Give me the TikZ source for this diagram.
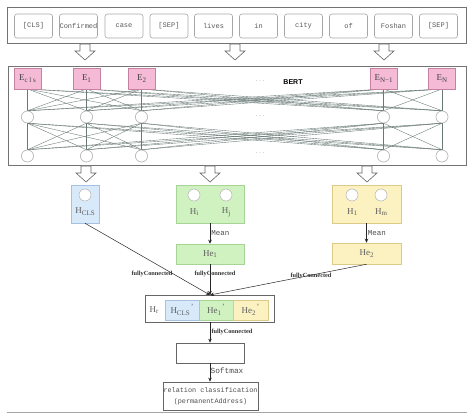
\documentclass[tikz,border=0pt]{standalone}
\usepackage{fontspec}
\setmainfont{Liberation Serif}
\setsansfont{Liberation Sans}
\setmonofont{Liberation Mono}
\usetikzlibrary{arrows.meta}
\definecolor{pinkF}{RGB}{244,186,214}
\definecolor{pinkB}{RGB}{196,130,160}
\definecolor{blueF}{RGB}{216,233,250}
\definecolor{blueB}{RGB}{165,195,225}
\definecolor{greenF}{RGB}{208,242,192}
\definecolor{greenB}{RGB}{165,212,150}
\definecolor{yelF}{RGB}{252,241,192}
\definecolor{yelB}{RGB}{222,202,135}
\definecolor{netc}{RGB}{105,122,118}
\definecolor{txtg}{RGB}{95,95,95}
\def\subsz{6.5pt}
\newcommand{\sbs}[1]{\raisebox{-0.45ex}{\fontsize{\subsz}{\subsz}\selectfont #1}}
\newcommand{\sps}{\raisebox{0.9ex}{\fontsize{8}{8}\selectfont\kern1pt'}}
\tikzset{
  frame/.style={draw=gray!90!black, line width=0.8pt, inner sep=0},
  tok/.style={draw=gray!70, rounded corners=2.5pt, minimum width=38pt, minimum height=24pt, inner sep=0,
    font=\ttfamily\fontsize{7}{8}\selectfont, text=black!65, line width=0.6pt},
  ebox/.style={draw=pinkB, fill=pinkF, minimum width=27pt, minimum height=21pt, inner sep=0,
    font=\fontsize{9}{10}\selectfont\def\subsz{7pt}, text=black!75},
  neur/.style={circle, draw=gray!60, fill=white, minimum size=12pt, inner sep=0, line width=0.5pt},
  net/.style={draw=netc, line width=0.38pt},
  dotsl/.style={font=\fontsize{6}{6}\selectfont, text=gray},
  hbox/.style={minimum height=38pt, inner sep=0, line width=0.5pt},
  hlab/.style={font=\fontsize{9}{10}\selectfont\def\subsz{7pt}, text=txtg, inner sep=0},
  inb/.style={minimum height=20pt, inner sep=0, font=\fontsize{9}{10}\selectfont\def\subsz{7pt}, text=txtg},
  flow/.style={draw=black!85, line width=0.5pt, -{Stealth[length=4pt,width=3.5pt]}},
  fc/.style={font=\bfseries\fontsize{6.3}{7}\selectfont, text=black!80, inner sep=0},
  mlab/.style={font=\ttfamily\fontsize{7.5}{8}\selectfont, text=black!70, inner sep=0},
  plain/.style={draw=gray!80!black, line width=0.7pt, inner sep=0},
  harrow/.pic={\draw[draw=gray!80!black, fill=white, line width=0.6pt]
    (-5,0) -- (5,0) -- (5,7) -- (10,7) -- (0,16) -- (-10,7) -- (-5,7) -- cycle;}
}
\begin{document}
\begin{tikzpicture}[x=1pt,y=-1pt]
\useasboundingbox (0,0) rectangle (474,419);
% top frame and tokens
\node[frame, minimum width=459pt, minimum height=36pt] (top) at (236.5,25) {};
\foreach \x/\t [count=\i] in {33.5/{[CLS]},78.5/Confirmed,124/case,169/{[SEP]},213.5/lives,258.5/in,303.5/city,348.5/of,393.5/Foshan,438.5/{[SEP]}}
  \node[tok] (t\i) at (\x,26) {\t};
% hollow arrows
\pic at (85,44) {harrow};
\pic at (235,44) {harrow};
\pic at (384,44) {harrow};
% BERT frame
\node[frame, minimum width=458pt, minimum height=99pt] (bert) at (237,115.5) {};
% network lines
\foreach \x [count=\i] in {27.5,86.5,141.5,383.5,442}{
  \coordinate (es\i) at (\x,89);
  \node[neur] (c\i) at (\x,117) {};
  \node[neur] (d\i) at (\x,156) {};
}
\foreach \i in {1,...,5}{
  \foreach \j in {1,...,5}{
    \draw[net] (es\i) -- (c\j.north);
    \draw[net] (c\i.south) -- (d\j.north);
  }
}
\foreach \i in {1,...,5}{
  \node[neur] at (c\i) {};
  \node[neur] at (d\i) {};
}
\node[ebox] (e1) at (27.5,78.5) {E\sbs{c l s}};
\node[ebox] (e2) at (86.5,78.5) {E\sbs{1}};
\node[ebox] (e3) at (141.5,78.5) {E\sbs{2}};
\node[ebox] (e4) at (383.5,78.5) {E\sbs{N−1}};
\node[ebox] (e5) at (442,78.5) {E\sbs{N}};
\node[dotsl] (dt1) at (260,81) {. . .};
\node[dotsl] (dt2) at (260,116) {. . .};
\node[dotsl] (dt3) at (260,153) {. . .};
\node[font=\sffamily\bfseries\fontsize{7}{8}\selectfont] (bl) at (293,82) {BERT};
% arrows below BERT
\pic at (86,166) {harrow};
\pic at (210,166) {harrow};
\pic at (367,166) {harrow};
% H boxes
\node[hbox, draw=blueB, fill=blueF, minimum width=28pt] (hcls) at (85,204) {};
\node[neur] (hc0) at (85,195) {};
\node[hlab] (hcl) at (85,212) {H\sbs{CLS}};
\node[hbox, draw=greenB, fill=greenF, minimum width=68pt] (hij) at (210,204) {};
\node[neur] (hi0) at (194,195) {};
\node[neur] (hj0) at (226,195) {};
\node[hlab] (hil) at (194,212) {H\sbs{i}};
\node[hlab] (hjl) at (226,212) {H\sbs{j}};
\node[hbox, draw=yelB, fill=yelF, minimum width=69pt] (h1m) at (366.5,204) {};
\node[neur] (h10) at (352,195) {};
\node[neur] (hm0) at (381,195) {};
\node[hlab] (h1l) at (352,212) {H\sbs{1}};
\node[hlab] (hml) at (381,212) {H\sbs{m}};
% He boxes
\node[inb, draw=greenB, fill=greenF, line width=0.5pt, minimum width=68pt] (he1) at (210,254) {He\sbs{1}};
\node[inb, draw=yelB, fill=yelF, line width=0.5pt, minimum width=69pt, minimum height=21pt] (he2) at (366.5,253.5) {He\sbs{2}};
\draw[flow] (hij.south) -- (he1.north) node[midway, right=1pt, mlab] {Mean};
\draw[flow] (h1m.south) -- (he2.north) node[midway, right=1pt, mlab] {Mean};
% Hr box
\node[plain, minimum width=129pt, minimum height=27pt] (hr) at (209.5,308.5) {};
\node[hlab] (hrl) at (154,310) {H\sbs{r}};
\node[inb, draw=blueB, fill=blueF, minimum width=34pt] (hr1) at (182,310) {H\sbs{CLS}\sps};
\node[inb, draw=greenB, fill=greenF, minimum width=34pt] (hr2) at (216,310) {He\sbs{1}\sps};
\node[inb, draw=yelB, fill=yelF, minimum width=35pt] (hr3) at (250.5,310) {He\sbs{2}\sps};
\coordinate (hrin) at (210,295);
\draw[flow] (hcls.south) -- (hrin);
\draw[flow] (he1.south) -- (hrin);
\draw[flow] (he2.south) -- (hrin);
\node[fc] (fc1) at (152,274) {fullyConnected};
\node[fc] (fc2) at (215,274) {fullyConnected};
\node[fc] (fc3) at (311,276) {fullyConnected};
% softmax box
\node[plain, minimum width=68pt, minimum height=20pt] (sm) at (210,353) {};
\draw[flow] (hr.south -| hrin) -- (sm.north);
\node[fc] (fc4) at (232,332) {fullyConnected};
% relation box
\node[plain, minimum width=95pt, minimum height=28pt, align=center, font=\ttfamily\fontsize{6.8}{11}\selectfont, text=black!70] (rel) at (210.5,396) {relation classification\\(permanentAddress)};
\draw[flow] (sm.south) -- (rel.north -| sm.south);
\node[mlab, font=\ttfamily\fontsize{7.8}{8}\selectfont] (sml) at (227,371) {Softmax};
% bottom rule
\coordinate (bl1) at (7,412);
\coordinate (bl2) at (467,412);
\draw[draw=gray!70, line width=0.6pt] (bl1) -- (bl2);
\end{tikzpicture}
\end{document}
